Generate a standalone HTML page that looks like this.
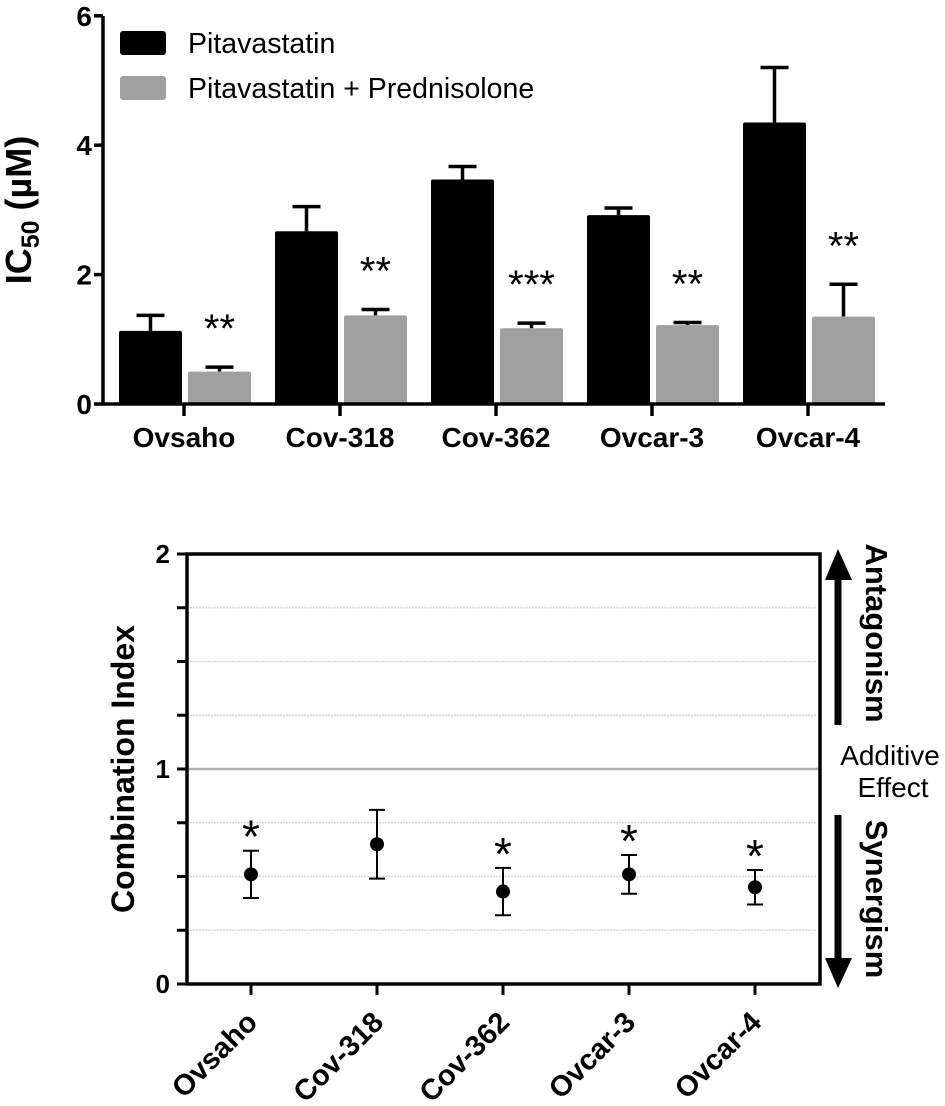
<!DOCTYPE html>
<html><head><meta charset="utf-8"><style>
html,body{margin:0;padding:0;background:#fff;}
svg{display:block;font-family:"Liberation Sans",Arial,sans-serif;}
</style></head><body>
<svg id="fig" width="945" height="1106" viewBox="0 0 945 1106" xmlns="http://www.w3.org/2000/svg"></svg>
<script>
const categories = ["Ovsaho","Cov-318","Cov-362","Ovcar-3","Ovcar-4"];
const pitaValues = [1.13,2.67,3.47,2.92,4.35];
const pitaErr = [0.24,0.38,0.2,0.11,0.85];
const comboValues = [0.5,1.37,1.17,1.22,1.35];
const comboErr = [0.07,0.09,0.08,0.04,0.5];
const sigLabels = ["**","**","***","**","**"];
const topTicks = [0,2,4,6];
const ciValues = [0.51,0.65,0.43,0.51,0.45];
const ciLow = [0.40,0.49,0.32,0.42,0.37];
const ciHigh = [0.62,0.81,0.54,0.60,0.53];
const ciSig = ["*","","*","*","*"];
const ciTicks = [0,1,2];
const ciGrid = [0.25,0.5,0.75,1.25,1.5,1.75];

const svg = document.getElementById('fig');
const NS = "http://www.w3.org/2000/svg";
function mk(tag, attrs, parent, text){
  const e = document.createElementNS(NS, tag);
  for (const k in attrs) e.setAttribute(k, attrs[k]);
  if (text !== undefined) e.textContent = text;
  (parent||svg).appendChild(e);
  return e;
}

// ===== Top chart =====
const tY = v => 404 - v * 64.7;
const tickX = i => 184 + i * 156;
const barW = 63;
const topG = mk('g', {});



categories.forEach((c, i) => {
  const x1 = tickX(i) - 65, x2 = tickX(i) + 4;
  const eb = mk('path', {d:`M${x1+barW/2},${tY(pitaValues[i])} V${tY(pitaValues[i]+pitaErr[i])} M${x1+barW/2-14},${tY(pitaValues[i]+pitaErr[i])} H${x1+barW/2+14}`, stroke:'#000','stroke-width':3.5,fill:'none'}, topG);
  
  
  const b1 = mk('rect', {x:x1, y:tY(pitaValues[i]), width:barW, height:404-tY(pitaValues[i]), fill:'#000', rx:2}, topG);
  
  
  const eg = mk('path', {d:`M${x2+barW/2},${tY(comboValues[i])} V${tY(comboValues[i]+comboErr[i])} M${x2+barW/2-14},${tY(comboValues[i]+comboErr[i])} H${x2+barW/2+14}`, stroke:'#000','stroke-width':3.5,fill:'none'}, topG);
  
  
  const b2 = mk('rect', {x:x2, y:tY(comboValues[i]), width:barW, height:404-tY(comboValues[i]), fill:'#a0a0a0', rx:2}, topG);
  
  
  const s = mk('text', {x:x2+barW/2, y:tY(comboValues[i]+comboErr[i]) - 25, 'font-size':40, 'text-anchor':'middle', fill:'#000'}, topG, sigLabels[i]);
  
  
  const tk = mk('line', {x1:tickX(i), x2:tickX(i), y1:404, y2:416, stroke:'#000','stroke-width':3.5}, topG);
  
  
  const lb = mk('text', {x:tickX(i), y:447, 'font-size':28, 'font-weight':'bold', 'text-anchor':'middle'}, topG, c);
  
  
});
const ax1 = mk('path', {d:'M103,16 V404 H885', stroke:'#000','stroke-width':3.5,fill:'none'}, topG);


topTicks.forEach(t => {
  const l = mk('line', {x1:94, x2:103, y1:tY(t), y2:tY(t), stroke:'#000','stroke-width':3.5}, topG);
  
  
  const tx = mk('text', {x:92, y:tY(t)+10, 'font-size':28, 'font-weight':'bold', 'text-anchor':'end'}, topG, String(t));
  
  
});
const yt = mk('text', {transform:'translate(31,210) rotate(-90)', 'font-size':36, 'font-weight':'bold', 'text-anchor':'middle'}, topG);


mk('tspan', {}, yt, 'IC');
mk('tspan', {'font-size':25, dy:8}, yt, '50');
mk('tspan', {dy:-8}, yt, ' (µM)');

const lg = mk('g', {}, topG);


const lb1 = mk('rect', {x:120, y:31, width:46, height:24, rx:3, fill:'#000'}, lg);


const lt1 = mk('text', {x:188, y:53, 'font-size':28.5}, lg, 'Pitavastatin');


const lb2 = mk('rect', {x:120, y:76, width:46, height:24, rx:3, fill:'#a0a0a0'}, lg);


const lt2 = mk('text', {x:188, y:98, 'font-size':28.5}, lg, 'Pitavastatin + Prednisolone');



// ===== Bottom chart =====
const bY = v => 984 - v * 215;
const bX = i => 251 + i * 126;
const botG = mk('g', {});


ciGrid.forEach(g => {
  const l = mk('line', {x1:190, x2:817, y1:bY(g), y2:bY(g), stroke:'#d8d8d8','stroke-width':1.5,'stroke-dasharray':'2,1'}, botG);
  
  
});
const ref = mk('line', {x1:187, x2:820, y1:bY(1), y2:bY(1), stroke:'#b0b0b0','stroke-width':2.5}, botG);


const box = mk('rect', {x:187, y:bY(2), width:633, height:bY(0)-bY(2), fill:'none', stroke:'#000','stroke-width':3.5}, botG);


ciGrid.concat(ciTicks).forEach(t => {
  const l = mk('line', {x1:177, x2:187, y1:bY(t), y2:bY(t), stroke:'#000','stroke-width':3}, botG);
  
  
});
ciTicks.forEach(t => {
  const tx = mk('text', {x:170, y:bY(t)+9, 'font-size':26, 'font-weight':'bold', 'text-anchor':'end'}, botG, String(t));
  
  
});
const yt2 = mk('text', {transform:'translate(134,769) rotate(-90)', 'font-size':32, 'font-weight':'bold', 'text-anchor':'middle'}, botG, 'Combination Index');


categories.forEach((c, i) => {
  const x = bX(i);
  const e = mk('path', {d:`M${x},${bY(ciLow[i])} V${bY(ciHigh[i])} M${x-8},${bY(ciLow[i])} H${x+8} M${x-8},${bY(ciHigh[i])} H${x+8}`, stroke:'#000','stroke-width':2,fill:'none'}, botG);
  
  
  const p = mk('circle', {cx:x, cy:bY(ciValues[i]), r:7, fill:'#000'}, botG);
  
  
  if (ciSig[i]) {
    const s = mk('text', {x:x, y:bY(ciHigh[i]) + 2, 'font-size':46, 'text-anchor':'middle'}, botG, ciSig[i]);
    
    
  }
  const tk = mk('line', {x1:x, x2:x, y1:984, y2:995, stroke:'#000','stroke-width':3}, botG);
  
  
  const lb = mk('text', {transform:`translate(${x+8},1024) rotate(-45)`, 'font-size':29, 'font-weight':'bold', 'text-anchor':'end'}, botG, c);
  
  
});
// annotations
const ann = mk('g', {}, botG);


const a1 = mk('path', {d:'M838,725 V575', stroke:'#000','stroke-width':7, fill:'none'}, ann);


const a1h = mk('path', {d:'M825,580 L838,549 L852,580 Z', fill:'#000'}, ann);


const a2 = mk('path', {d:'M838,815 V962', stroke:'#000','stroke-width':7, fill:'none'}, ann);


const a2h = mk('path', {d:'M825,958 L838,988 L852,958 Z', fill:'#000'}, ann);


const t1 = mk('text', {transform:'translate(866,633) rotate(90)', 'font-size':31, 'font-weight':'bold', 'text-anchor':'middle'}, ann, 'Antagonism');


const t2 = mk('text', {transform:'translate(866,899) rotate(90)', 'font-size':31, 'font-weight':'bold', 'text-anchor':'middle'}, ann, 'Synergism');


const t3 = mk('text', {x:890, y:765, 'font-size':28, 'text-anchor':'middle'}, ann, 'Additive');


const t4 = mk('text', {x:893, y:797, 'font-size':28, 'text-anchor':'middle'}, ann, 'Effect');


</script>
</body></html>
